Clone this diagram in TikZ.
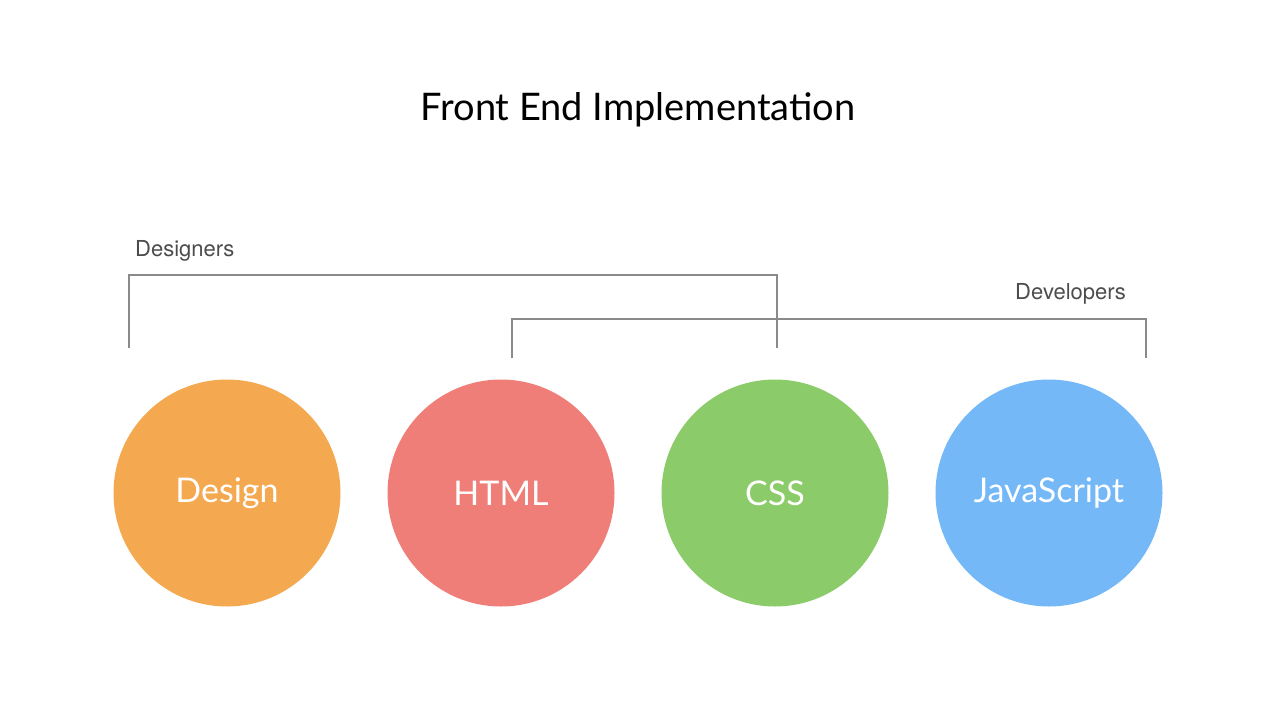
\documentclass[tikz,border=0pt]{standalone}
\usepackage{fontspec}
\setmainfont{Lato}
\newfontfamily\helv{TeX Gyre Heros}
\definecolor{corange}{HTML}{F4A84F}
\definecolor{cred}{HTML}{F07E78}
\definecolor{cgreen}{HTML}{8CCB69}
\definecolor{cblue}{HTML}{74B8F7}
\definecolor{lgray}{HTML}{8A8A8A}
\begin{document}
\begin{tikzpicture}[x=1pt,y=-1pt,
  bubble/.style={circle,minimum size=227pt,inner sep=0pt,text=white,font=\fontsize{34}{40}\selectfont},
  lbl/.style={font=\helv\fontsize{22}{26}\selectfont,text=black!70,anchor=west,inner sep=0pt},
  bracket/.style={draw=lgray,line width=1.5pt}]
\useasboundingbox (0,0) rectangle (1280,720);
\node (title) at (638,110) {\fontsize{38}{44}\selectfont Front End Implementation};
\node[bubble,fill=corange] (design) at (227,493) {Design};
\node[bubble,fill=cred] (html) at (501,493) {HTML};
\node[bubble,fill=cgreen] (css) at (775,493) {CSS};
\node[bubble,fill=cblue] (js) at (1049,493) {JavaScript};
\node[lbl] (designers) at (135,251) {Designers};
\node[lbl] (developers) at (1015,294) {Developers};
\coordinate (d1) at (129,348);
\coordinate (d2) at (777,348);
\coordinate (v1) at (512,358);
\coordinate (v2) at (1146,358);
\draw[bracket] (d1) -- ++(0,-73) -| (d2);
\draw[bracket] (v1) -- ++(0,-39) -| (v2);
\end{tikzpicture}
\end{document}
